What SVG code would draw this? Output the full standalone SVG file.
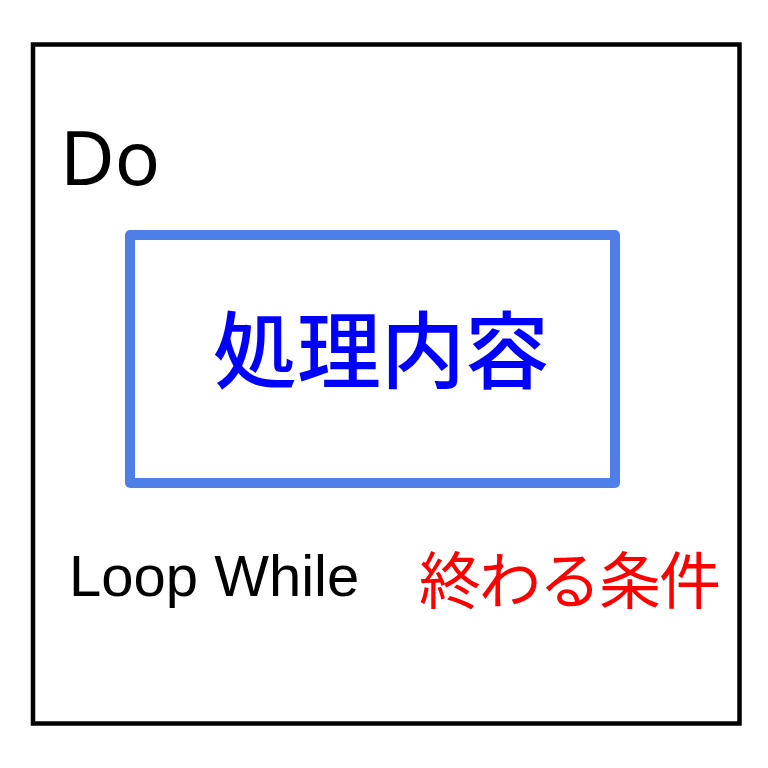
<svg xmlns="http://www.w3.org/2000/svg" width="768" height="768" viewBox="0 0 768 768">
<style>
.latin{font-family:"Noto Sans","DejaVu Sans",sans-serif;fill:#000}
.arial{font-family:"Liberation Sans",Arial,sans-serif;fill:#000}
.cjk{font-family:"Noto Sans CJK JP","Noto Sans CJK SC",sans-serif}
</style>
<rect width="768" height="768" fill="#fff"/>
<g id="outer">
<rect x="33" y="44.5" width="706.5" height="679" fill="none" stroke="#000" stroke-width="4.5"/>
<text class="latin" x="60" y="185" font-size="75">Do</text>
</g>
<g id="process">
<rect x="130" y="235" width="485" height="248" fill="none" stroke="#4e7ee8" stroke-width="10" stroke-linejoin="round"/>
<text class="cjk" x="213" y="382" font-size="84" font-weight="500" fill="#0000ff">処理内容</text>
</g>
<g id="condition">
<text class="arial" x="69" y="596" font-size="58">Loop While</text>
<text class="cjk" x="419" y="604" font-size="62" letter-spacing="-2" fill="#ff0000">終わる条件</text>
</g>
<g id="connectors"></g>
</svg>
